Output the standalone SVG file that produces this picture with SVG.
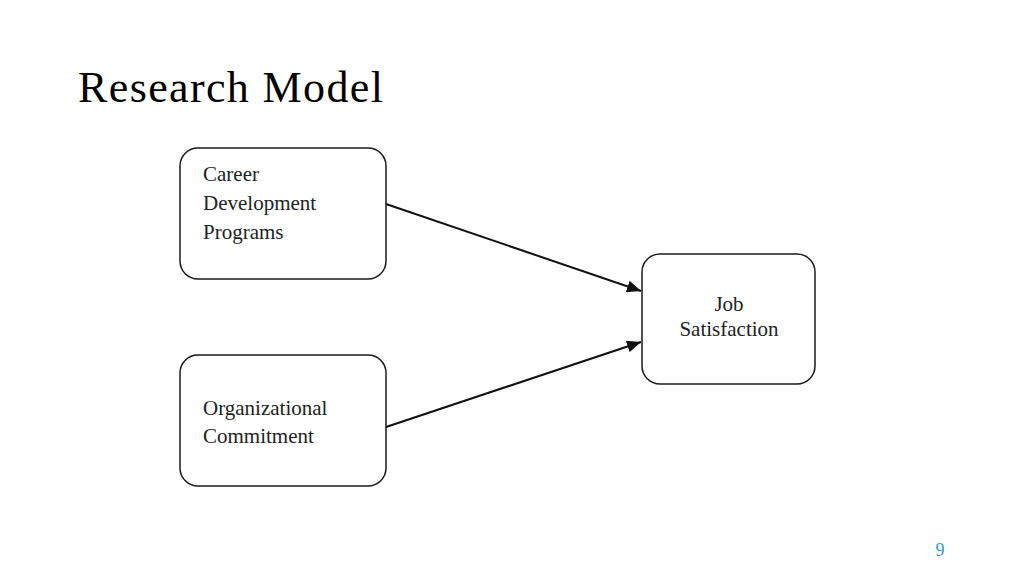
<svg xmlns="http://www.w3.org/2000/svg" width="1024" height="576" viewBox="0 0 1024 576">
<style>
.box{fill:#fff;stroke:#1a1a1a;stroke-width:1.5}
.t{font-family:"Liberation Serif",serif;font-size:21px;fill:#222}
.c{stroke:#111;stroke-width:2;fill:none}
</style>
<defs><marker id="a" markerWidth="14" markerHeight="12" refX="14" refY="6" orient="auto" markerUnits="userSpaceOnUse"><path d="M0,0 L14,6 L0,12 Z" fill="#111"/></marker></defs>
<rect width="1024" height="576" fill="#fff"/>
<text x="78" y="102" font-family="Liberation Serif,serif" font-size="44" fill="#000" textLength="305">Research Model</text>
<g id="n1"><rect class="box" x="180" y="148" width="206" height="131" rx="18"/>
<text class="t" x="203" y="181">Career</text><text class="t" x="203" y="210">Development</text><text class="t" x="203" y="239">Programs</text></g>
<g id="n2"><rect class="box" x="180" y="355" width="206" height="131" rx="18"/>
<text class="t" x="203" y="415">Organizational</text><text class="t" x="203" y="443">Commitment</text></g>
<g id="n3"><rect class="box" x="642" y="254" width="173" height="130" rx="18"/>
<text class="t" x="729" y="311" text-anchor="middle">Job</text><text class="t" x="729" y="336" text-anchor="middle">Satisfaction</text></g>
<g id="connectors">
<line class="c" x1="386" y1="204" x2="641" y2="291" marker-end="url(#a)"/>
<line class="c" x1="386" y1="427" x2="641" y2="342" marker-end="url(#a)"/>
</g>
<text x="940" y="556" font-family="Liberation Serif,serif" font-size="18" fill="#2aa0c8" text-anchor="middle">9</text>
</svg>
